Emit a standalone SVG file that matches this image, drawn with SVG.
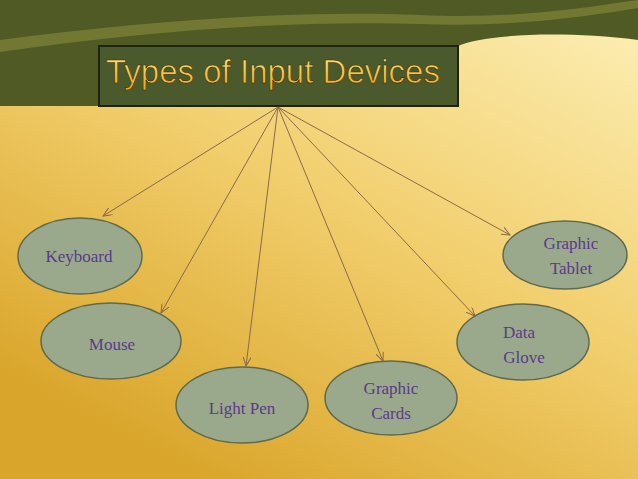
<svg xmlns="http://www.w3.org/2000/svg" width="638" height="479" viewBox="0 0 638 479">
<defs>
<linearGradient id="bg" x1="1" y1="0" x2="0.3" y2="1">
<stop offset="0" stop-color="#fdf0b8"/>
<stop offset="0.5" stop-color="#f2cf6e"/>
<stop offset="1" stop-color="#d9a52a"/>
</linearGradient>
<linearGradient id="ttl" x1="0" y1="0" x2="0" y2="1">
<stop offset="0" stop-color="#ffe680"/>
<stop offset="1" stop-color="#e8a820"/>
</linearGradient>
<marker id="ah" markerWidth="10" markerHeight="8" refX="9" refY="4" orient="auto" markerUnits="userSpaceOnUse">
<path d="M0,0 L9,4 L0,8" fill="none" stroke="#8a6a4a" stroke-width="1"/>
</marker>
<style>
.n ellipse{fill:#9aa98c;stroke:#5d6a4e;stroke-width:1.5}
.n text{font-family:"Liberation Serif",serif;font-size:17px;fill:#5a3a8a;text-anchor:middle}
#conn line{stroke:#8a6a4a;stroke-width:1;marker-end:url(#ah)}
</style>
</defs>
<rect width="638" height="479" fill="url(#bg)"/>
<path d="M0,0 H638 V40 C560,30 480,35 458,46 H0 Z" fill="#4f5a25"/>
<rect x="0" y="46" width="100" height="60" fill="#4f5a25"/>
<path d="M0,40 C150,20 300,10 420,15 C520,20 600,5 638,0 V8 C600,14 520,28 420,24 C300,20 150,30 0,52 Z" fill="#8a8a3a" opacity="0.6"/>
<g id="title">
<rect x="99" y="46" width="359" height="60" fill="#4b5a2c" stroke="#1e2410" stroke-width="2"/>
<text x="106" y="83" font-family="Liberation Sans,sans-serif" font-size="33" textLength="334" lengthAdjust="spacingAndGlyphs" fill="url(#ttl)" stroke="#3a2a00" stroke-width="0.6">Types of Input Devices</text>
</g>
<g id="conn">
<line x1="278" y1="107" x2="103" y2="216"/>
<line x1="278" y1="107" x2="161" y2="313"/>
<line x1="278" y1="107" x2="246" y2="366"/>
<line x1="278" y1="107" x2="383" y2="361"/>
<line x1="278" y1="107" x2="475" y2="316"/>
<line x1="278" y1="107" x2="510" y2="235"/>
</g>
<g id="keyboard" class="n"><ellipse cx="80" cy="256" rx="62" ry="38"/><text x="79" y="262">Keyboard</text></g>
<g id="mouse" class="n"><ellipse cx="111" cy="341" rx="70" ry="38"/><text x="112" y="350">Mouse</text></g>
<g id="lightpen" class="n"><ellipse cx="242" cy="405" rx="66" ry="38"/><text x="242" y="414">Light Pen</text></g>
<g id="graphiccards" class="n"><ellipse cx="391" cy="398" rx="66" ry="37"/><text x="391" y="394">Graphic</text><text x="391" y="419">Cards</text></g>
<g id="dataglove" class="n"><ellipse cx="523" cy="342" rx="66" ry="38"/><text x="519" y="338">Data</text><text x="524" y="363">Glove</text></g>
<g id="graphictablet" class="n"><ellipse cx="565" cy="255" rx="62" ry="34"/><text x="571" y="249">Graphic</text><text x="571" y="274">Tablet</text></g>
</svg>
